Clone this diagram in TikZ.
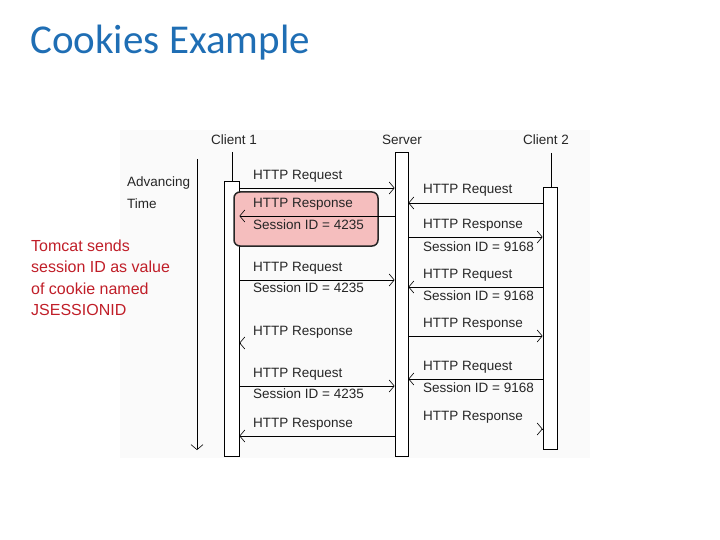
\documentclass[tikz,border=0pt]{standalone}
\usepackage{fontspec}
\setmainfont{Liberation Sans}
\newfontfamily\titlefont{Carlito}
\usetikzlibrary{arrows.meta}
\begin{document}
\begin{tikzpicture}[x=1pt,y=-1pt,
  lab/.style={anchor=west,font=\fontsize{13.5}{15}\selectfont,text=black!85,inner sep=0pt},
  bar/.style={draw=black,fill=white,line width=0.8pt},
  msg/.style={-{Straight Barb[length=5pt,width=12pt]},line width=0.6pt},
  red/.style={anchor=west,font=\fontsize{16}{18}\selectfont,text={rgb,255:red,192;green,30;blue,40},inner sep=0pt}]
\useasboundingbox (0,0) rectangle (720,540);
\fill[black!2] (120,130) rectangle (590,458);
\node[anchor=west,inner sep=0pt,font=\titlefont\fontsize{41}{44}\selectfont,text={rgb,255:red,31;green,110;blue,180}] (title) at (30,43) {Cookies Example};
\node[red] (r1) at (31,246) {Tomcat sends};
\node[red] (r2) at (31,267) {session ID as value};
\node[red] (r3) at (31,289) {of cookie named};
\node[red] (r4) at (31,310) {JSESSIONID};
% headers
\node[font=\fontsize{13.5}{15}\selectfont,text=black!85] (c1) at (234,140) {Client 1};
\node[font=\fontsize{13.5}{15}\selectfont,text=black!85] (sv) at (402,140) {Server};
\node[font=\fontsize{13.5}{15}\selectfont,text=black!85] (c2) at (546,140) {Client 2};
\node[lab] (adv) at (127,183) {Advancing};
\node[lab] (tim) at (127,204) {Time};
\coordinate (t1) at (197,159); \coordinate (t2) at (197,450);
\draw[msg] (t1) -- (t2);
\draw[line width=0.6pt] (232,152) -- (232,181);
\draw[line width=0.6pt] (551,153) -- (551,187);
% bars
\node[bar,minimum width=15pt,minimum height=275pt,inner sep=0pt] (A) at (231.5,318.5) {};
\node[bar,minimum width=13pt,minimum height=304pt,inner sep=0pt] (S) at (401.5,304) {};
\node[bar,minimum width=14pt,minimum height=262pt,inner sep=0pt] (B) at (550,318) {};
% pink box
\node[draw=black!85,line width=1.5pt,fill={rgb,255:red,245;green,190;blue,190},rounded corners=6pt,minimum width=144pt,minimum height=54pt,inner sep=0pt] (pink) at (306,219) {};
% left messages
\draw[msg] (A.east|-0,188) -- (S.west|-0,188);
\draw[msg] (S.west|-0,216) -- (A.east|-0,216);
\draw[msg] (A.east|-0,280) -- (S.west|-0,280);
\draw[msg] (A.east|-0,343) ++(1,0) -- (A.east|-0,343);
\draw[msg] (A.east|-0,386) -- (S.west|-0,386);
\draw[msg] (S.west|-0,436) -- (A.east|-0,436);
% right messages
\draw[msg] (B.west|-0,203) -- (S.east|-0,203);
\draw[msg] (S.east|-0,237) -- (B.west|-0,237);
\draw[msg] (B.west|-0,287) -- (S.east|-0,287);
\draw[msg] (S.east|-0,336) -- (B.west|-0,336);
\draw[msg] (B.west|-0,379) -- (S.east|-0,379);
\draw[msg] (B.west|-0,429) ++(-1,0) -- (B.west|-0,429);
% left labels
\node[lab] (l1) at (253,176) {HTTP Request};
\node[lab] (l2) at (253,204) {HTTP Response};
\node[lab] (l3) at (253,225) {Session ID = 4235};
\node[lab] (l4) at (253,268) {HTTP Request};
\node[lab] (l5) at (253,288) {Session ID = 4235};
\node[lab] (l6) at (253,332) {HTTP Response};
\node[lab] (l7) at (253,374) {HTTP Request};
\node[lab] (l8) at (253,394) {Session ID = 4235};
\node[lab] (l9) at (253,424) {HTTP Response};
% right labels
\node[lab] (m1) at (423,190) {HTTP Request};
\node[lab] (m2) at (423,225) {HTTP Response};
\node[lab] (m3) at (423,247) {Session ID = 9168};
\node[lab] (m4) at (423,275) {HTTP Request};
\node[lab] (m5) at (423,296) {Session ID = 9168};
\node[lab] (m6) at (423,324) {HTTP Response};
\node[lab] (m7) at (423,367) {HTTP Request};
\node[lab] (m8) at (423,388) {Session ID = 9168};
\node[lab] (m9) at (423,417) {HTTP Response};
\end{tikzpicture}
\end{document}
